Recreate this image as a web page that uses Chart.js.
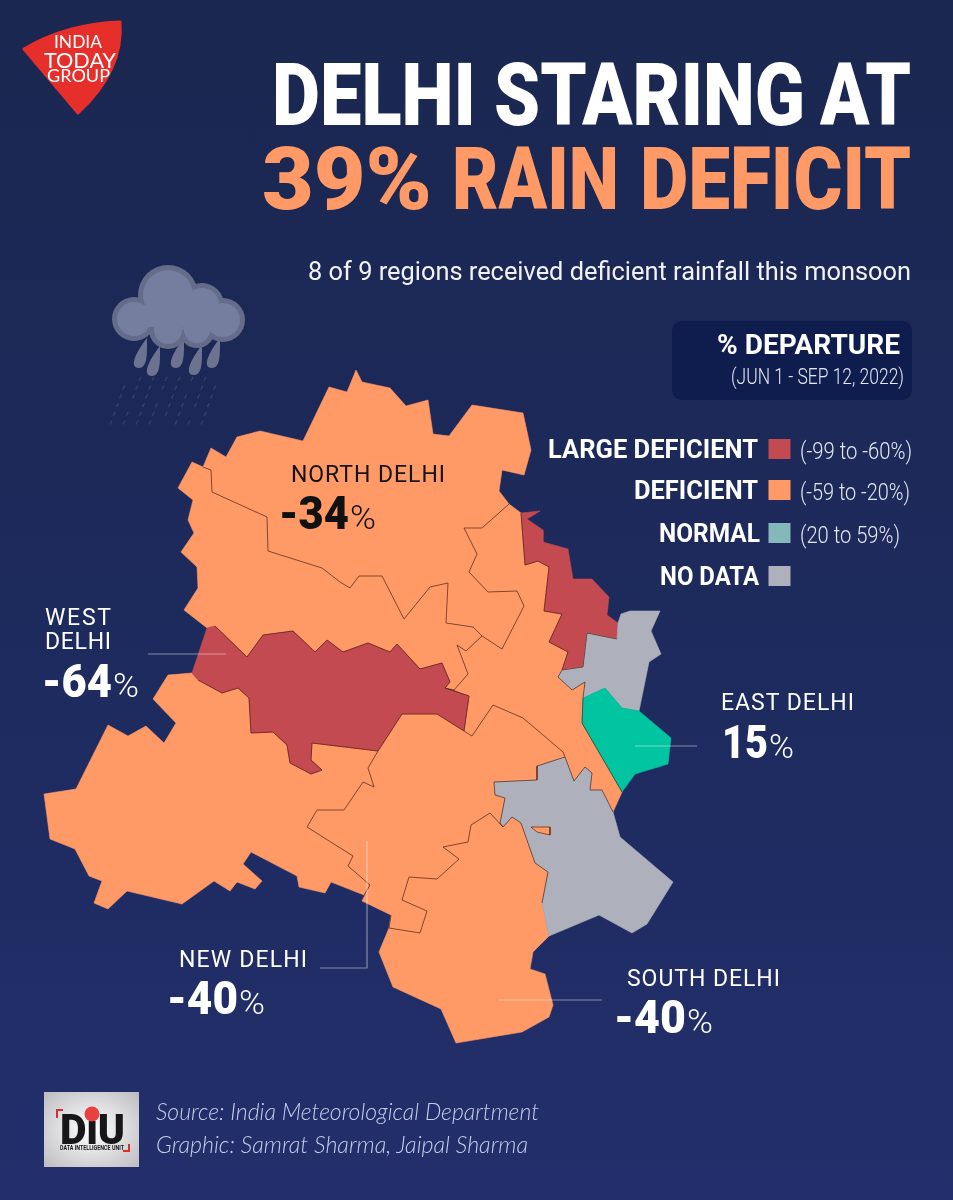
<!DOCTYPE html>
<html>
<head>
<meta charset="utf-8">
<title>Delhi staring at 39% rain deficit</title>
<script src="https://cdn.jsdelivr.net/npm/chart.js@4"></script>
<style>
  html, body { margin: 0; padding: 0; }
  body { width: 953px; height: 1200px; position: relative; overflow: hidden;
         background: linear-gradient(180deg, #1a2750 0%, #1d2a5c 50%, #222f6c 100%); }
  #map { position: absolute; left: 0; top: 0; width: 953px; height: 1200px; }
  #overlay { position: absolute; left: 0; top: 0; }
</style>
</head>
<body>
<canvas id="map" width="953" height="1200"></canvas>
<svg id="overlay" width="953" height="1200" xmlns="http://www.w3.org/2000/svg"></svg>
<script>
// ─── Data ─────────────────────────────────────────────────────────────────────

const regionNames = ['NORTH DELHI', 'WEST DELHI', 'EAST DELHI', 'NEW DELHI', 'SOUTH DELHI'];
const regionDepartures = ['-34', '-64', '15', '-40', '-40'];

const legendLabels = ['LARGE DEFICIENT', 'DEFICIENT', 'NORMAL', 'NO DATA'];
const legendRanges = ['(-99 to -60%)', '(-59 to -20%)', '(20 to 59%)', ''];

// District outlines
const north = [[203,467],[211,448],[226,457],[237,437],[260,431],[303,441],[329,387],[347,392],[356,370],[362,382],[390,388],[406,406],[428,400],[433,434],[449,436],[472,405],[523,413],[531,450],[524,475],[502,470],[499,491],[509,504],[482,528],[464,528],[477,554],[469,572],[488,592],[517,591],[524,606],[502,649],[482,636],[473,627],[446,623],[448,583],[430,587],[404,619],[382,576],[359,576],[350,588],[340,582],[322,568],[268,551],[267,517],[212,492],[211,470]];
const northWest = [[203,467],[192,462],[178,488],[193,500],[188,520],[194,533],[181,552],[197,567],[198,588],[184,610],[207,628],[215,626],[247,657],[263,635],[293,631],[315,652],[327,640],[343,652],[368,643],[390,652],[397,644],[420,669],[442,663],[450,682],[445,688],[454,690],[468,674],[457,645],[466,651],[482,636],[473,627],[446,623],[448,583],[430,587],[404,619],[382,576],[359,576],[350,588],[340,582],[322,568],[268,551],[267,517],[212,492],[211,470]];
const west = [[207,628],[215,626],[247,657],[263,635],[293,631],[315,652],[327,640],[343,652],[368,643],[390,652],[397,644],[420,669],[442,663],[450,682],[445,688],[469,696],[464,731],[437,714],[402,714],[378,751],[312,743],[311,760],[322,770],[311,774],[290,763],[287,745],[273,732],[251,733],[249,698],[238,688],[222,693],[198,680],[192,673]];
const southWest = [[168,675],[192,673],[198,680],[222,693],[238,688],[249,698],[251,733],[273,732],[287,745],[290,763],[311,774],[322,770],[311,760],[312,743],[378,751],[368,768],[374,787],[363,782],[344,810],[317,810],[307,827],[353,856],[348,866],[370,885],[364,895],[331,882],[325,893],[299,887],[297,876],[251,852],[243,864],[262,881],[255,889],[237,882],[230,891],[214,881],[182,904],[127,891],[108,909],[94,903],[102,881],[89,876],[75,849],[50,839],[44,794],[76,789],[108,725],[128,736],[146,726],[164,743],[176,723],[153,699]];
const newDelhi = [[378,751],[402,714],[437,714],[464,731],[472,736],[493,705],[523,718],[563,752],[565,757],[537,766],[537,780],[494,782],[495,795],[505,798],[500,823],[503,827],[490,813],[471,825],[468,842],[443,847],[459,859],[437,879],[409,877],[402,900],[427,911],[420,933],[389,928],[391,915],[362,901],[370,885],[348,866],[353,856],[307,827],[317,810],[344,810],[363,782],[374,787],[368,768]];
const south = [[389,928],[379,952],[393,987],[441,1009],[456,1043],[522,1032],[549,1017],[553,1005],[545,974],[530,969],[533,952],[549,936],[542,903],[548,872],[535,863],[521,823],[512,817],[503,827],[490,813],[471,825],[468,842],[443,847],[459,859],[437,879],[409,877],[402,900],[427,911],[420,933]];
const southEast = [[494,782],[537,780],[537,766],[565,757],[574,781],[585,767],[592,773],[590,790],[602,790],[613,812],[620,837],[673,882],[647,924],[632,933],[599,915],[549,936],[542,903],[548,872],[535,863],[521,823],[512,817],[503,827],[500,823],[505,798],[495,795]];
const southEastNotch = [[531,827],[550,827],[550,835],[537,832]];
const central = [[457,645],[468,674],[454,690],[469,696],[464,731],[472,736],[493,705],[523,718],[563,752],[565,757],[574,781],[585,767],[592,773],[590,790],[602,790],[613,812],[622,792],[582,723],[583,698],[585,682],[572,690],[558,677],[562,670],[568,652],[549,642],[562,614],[544,611],[549,567],[538,561],[525,565],[521,513],[509,504],[482,528],[464,528],[477,554],[469,572],[488,592],[517,591],[524,606],[502,649],[482,636],[466,651]];
const northEast = [[521,513],[540,511],[527,519],[543,530],[543,542],[568,549],[573,579],[592,579],[609,597],[607,615],[618,623],[617,639],[587,633],[583,667],[562,670],[568,652],[549,642],[562,614],[544,611],[549,567],[538,561],[525,565]];
const shahdara = [[618,623],[621,614],[630,611],[660,611],[651,631],[661,654],[649,662],[639,711],[622,708],[605,688],[583,698],[585,682],[572,690],[558,677],[562,670],[583,667],[587,633],[617,639]];
const east = [[583,698],[605,688],[622,708],[639,711],[671,738],[668,764],[635,774],[622,792],[582,723]];

// Inner boundaries, the thin dark lines between districts
const northBoundary = [[203,467],[211,470],[212,492],[267,517],[268,551],[322,568],[340,582],[350,588],[359,576],[382,576],[404,619],[430,587],[448,583],[446,623],[473,627],[482,636]];
const centralBoundary = [[509,504],[482,528],[464,528],[477,554],[469,572],[488,592],[517,591],[524,606],[502,649],[482,636],[466,651],[457,645],[468,674],[454,690],[445,688]];
const westBoundary = [[215,626],[247,657],[263,635],[293,631],[315,652],[327,640],[343,652],[368,643],[390,652],[397,644],[420,669],[442,663],[450,682],[445,688],[469,696],[464,731],[437,714],[402,714],[378,751],[312,743],[311,760],[322,770],[311,774],[290,763],[287,745],[273,732],[251,733],[249,698],[238,688],[222,693],[198,680]];
const southWestBoundary = [[378,751],[368,768],[374,787],[363,782],[344,810],[317,810],[307,827],[353,856],[348,866],[370,885],[364,895]];
const newDelhiTop = [[464,731],[472,736],[493,705],[523,718],[563,752],[565,757]];
const southBoundary = [[503,827],[490,813],[471,825],[468,842],[443,847],[459,859],[437,879],[409,877],[402,900],[427,911],[420,933],[389,928],[391,915]];
const southEastWest = [[565,757],[537,766],[537,780],[494,782],[495,795],[505,798],[500,823],[503,827]];
const southEastSouth = [[503,827],[512,817],[521,823],[535,863],[548,872],[542,903]];
const southEastNorth = [[565,757],[574,781],[585,767],[592,773],[590,790],[602,790],[613,812]];
const northEastBoundary = [[521,513],[525,565],[538,561],[549,567],[544,611],[562,614],[549,642],[568,652],[562,670],[583,667],[587,633],[617,639]];
const shahdaraBoundary = [[562,670],[558,677],[572,690],[585,682],[583,698],[582,723],[622,792]];
const notchBoundary = [[531,827],[550,827],[550,835],[537,832],[531,827]];

// Leader lines from labels into the map
const westLeader = [[148,654],[226,654]];
const eastLeader = [[635,746],[697,746]];
const newDelhiLeader = [[367,841],[367,968],[320,968]];
const southLeader = [[499,1000],[602,1000]];

// ─── Colours ──────────────────────────────────────────────────────────────────

const RED = '#c24a50';
const ORANGE = '#ff9966';
const GREEN = '#00c5a0';
const GREY = '#aeb0bc';
const SOFT_TEAL = '#84b8ba';
const BORDER = 'rgba(80,36,20,0.85)';
const LEADER = 'rgba(255,255,255,0.45)';

// ─── Map ──────────────────────────────────────────────────────────────────────

function toPoints(list, closed) {
  const pts = closed ? [...list, list[0]] : list;
  return pts.map(([x, y]) => ({ x, y }));
}

// border in the fill colour so no seams show between neighbours
function regionDataset(outline, color) {
  return {
    data: toPoints(outline, true),
    showLine: true,
    fill: 'shape',
    backgroundColor: color,
    borderColor: color,
    borderWidth: 0.6,
    pointRadius: 0,
    tension: 0,
  };
}

function lineDataset(line, color, width) {
  return {
    data: toPoints(line, false),
    showLine: true,
    fill: false,
    borderColor: color,
    borderWidth: width,
    pointRadius: 0,
    tension: 0,
  };
}

const boundaries = [
  northBoundary, centralBoundary, westBoundary, southWestBoundary, newDelhiTop, southBoundary,
  southEastWest, southEastSouth, southEastNorth, northEastBoundary, shahdaraBoundary, notchBoundary,
];

// first dataset ends up on top
new Chart(document.getElementById('map').getContext('2d'), {
  type: 'scatter',
  data: {
    datasets: [
      lineDataset(westLeader, LEADER, 1.2),
      lineDataset(eastLeader, LEADER, 1.2),
      lineDataset(newDelhiLeader, LEADER, 1.2),
      lineDataset(southLeader, LEADER, 1.2),
      ...boundaries.map((line) => lineDataset(line, BORDER, 0.8)),
      regionDataset(southEastNotch, ORANGE),
      regionDataset(east, GREEN),
      regionDataset(shahdara, GREY),
      regionDataset(northEast, RED),
      regionDataset(west, RED),
      regionDataset(southEast, GREY),
      regionDataset(south, ORANGE),
      regionDataset(newDelhi, ORANGE),
      regionDataset(central, ORANGE),
      regionDataset(southWest, ORANGE),
      regionDataset(northWest, ORANGE),
      regionDataset(north, ORANGE),
    ],
  },
  options: {
    responsive: false,
    animation: false,
    layout: { padding: 0 },
    plugins: { legend: { display: false }, tooltip: { enabled: false } },
    scales: {
      x: { type: 'linear', min: 0, max: 953, display: false },
      y: { type: 'linear', min: 0, max: 1200, reverse: true, display: false },
    },
  },
});

// ─── Text and decoration ──────────────────────────────────────────────────────

const svg = document.getElementById('overlay');
const SVG_NS = 'http://www.w3.org/2000/svg';

function el(name, attrs, parent) {
  const node = document.createElementNS(SVG_NS, name);
  for (const key in attrs) node.setAttribute(key, attrs[key]);
  (parent || svg).appendChild(node);
  return node;
}

// x0..x1 is the width the text has in the picture, y the baseline
function text(str, x0, x1, y, size, weight, color, family, style, adjust) {
  const node = el('text', {
    x: x0, y,
    'font-size': size,
    'font-weight': weight,
    'font-style': style || 'normal',
    'font-family': family || 'Roboto, sans-serif',
    fill: color,
    textLength: x1 - x0,
    lengthAdjust: adjust || 'spacingAndGlyphs',
  });
  node.textContent = str;
  return node;
}

// Region names are tracked out rather than stretched
function nameText(str, x0, x1, y, color) {
  return text(str, x0, x1, y, 23, 400, color, null, null, 'spacing');
}

// Title line, each word fitted to its own width
function titleLine(words, spans, y, color) {
  const node = el('text', {
    y, fill: color, 'font-size': 88, 'font-weight': 900, 'font-family': 'Roboto, sans-serif',
  });
  words.forEach((word, i) => {
    if (i > 0) node.appendChild(document.createTextNode(' '));
    const span = el('tspan', {
      x: spans[i][0],
      textLength: spans[i][1] - spans[i][0],
      lengthAdjust: 'spacingAndGlyphs',
    }, node);
    span.textContent = word;
  });
}

// Title
titleLine(['DELHI', 'STARING', 'AT'], [[272,476],[494,805],[820,911]], 125, '#ffffff');
titleLine(['39%', 'RAIN', 'DEFICIT'], [[262,432],[452,619],[640,911]], 209, ORANGE);
text('8 of 9 regions received deficient rainfall this monsoon', 308, 911, 280, 25, 400, '#f2f3f8');

// Legend header
el('rect', { x: 672, y: 321, width: 240, height: 79, rx: 10, fill: '#0e1c4e' });
text('% DEPARTURE', 717, 900, 354, 27, 700, '#ffffff');
text('(JUN 1 - SEP 12, 2022)', 731, 904, 384, 22, 300, '#e4e7f2');

// Legend rows
const legendColors = [RED, ORANGE, SOFT_TEAL, GREY];
const legendLabelX = [548, 634, 659, 660];
const legendLabelEnd = [758, 758, 760, 759];
const legendBase = [458, 499, 542, 585];
const legendRangeEnd = [912, 910, 900, 0];
legendLabels.forEach((label, i) => {
  text(label, legendLabelX[i], legendLabelEnd[i], legendBase[i], 25, 700, '#ffffff');
  el('rect', { x: 768.5, y: legendBase[i] - 19, width: 22, height: 20, fill: legendColors[i] });
  if (legendRanges[i]) {
    text(legendRanges[i], 800, legendRangeEnd[i], legendBase[i] + 1, 23, 300, '#e4e7f2');
  }
});

// Region labels: name, big number, thin percent sign
function valueLabel(value, x0, x1, pctEnd, y, color) {
  text(value, x0, x1, y, 46, 900, color);
  text('%', x1 + 1, pctEnd, y, 33, 300, color);
}

nameText(regionNames[0], 291, 445, 482, '#141414');
valueLabel(regionDepartures[0], 279, 349, 376, 529, '#111111');

const westWords = regionNames[1].split(' ');
nameText(westWords[0], 45, 111, 625, '#ffffff');
nameText(westWords[1], 45, 111, 649, '#ffffff');
valueLabel(regionDepartures[1], 42, 112, 139, 697, '#ffffff');

nameText(regionNames[2], 721, 854, 710, '#ffffff');
valueLabel(regionDepartures[2], 722, 768, 794, 758, '#ffffff');

nameText(regionNames[3], 179, 307, 967, '#ffffff');
valueLabel(regionDepartures[3], 167, 238, 265, 1014, '#ffffff');

nameText(regionNames[4], 627, 780, 986, '#ffffff');
valueLabel(regionDepartures[4], 614, 686, 713, 1033, '#ffffff');

// Source
text('Source: India Meteorological Department', 156, 539, 1120, 23, 300, '#c6cdea', 'Lato, sans-serif', 'italic');
text('Graphic: Samrat Sharma, Jaipal Sharma', 156, 528, 1153, 23, 300, '#c6cdea', 'Lato, sans-serif', 'italic');

// India Today logo
el('path', { d: 'M24 49 Q66 24 120 22 Q124 70 78 113 Z', fill: '#e62e2b', stroke: '#e62e2b', 'stroke-width': 3, 'stroke-linejoin': 'round' });
text('INDIA', 54, 102, 48, 18, 400, '#ffffff', 'Lato, sans-serif');
text('TODAY', 44, 116, 68, 22, 400, '#ffffff', 'Lato, sans-serif');
text('GROUP', 47, 110, 82, 18, 400, '#ffffff', 'Lato, sans-serif');

// Rain cloud: drops first, the cloud covers their tips
const dropCentres = [[139,362],[152,370],[176,362],[194,369],[212,362]];
for (const [cx, cy] of dropCentres) {
  el('path', {
    d: `M${cx + 8} ${cy - 24} C${cx + 8} ${cy - 10} ${cx + 9} ${cy + 6} ${cx} ${cy + 6} C${cx - 9} ${cy + 6} ${cx - 6} ${cy - 6} ${cx + 8} ${cy - 24} Z`,
    fill: '#6b7391',
  });
}
const cloudLobes = [[134,319,22],[168,295,30],[202,305,22],[223,320,22],[168,330,19],[197,330,18]];
for (const [cx, cy, r] of cloudLobes) el('circle', { cx, cy, r, fill: '#646c8a' });
for (const [cx, cy, r] of cloudLobes) el('circle', { cx, cy, r: r - 5, fill: '#757e9f' });
el('polygon', { points: cloudLobes.map(([cx, cy]) => `${cx},${cy}`).join(' '), fill: '#757e9f' });
el('rect', { x: 134, y: 305, width: 90, height: 22, fill: '#757e9f' });

for (let row = 0; row < 6; row++) {
  for (let col = 0; col < 8; col++) {
    if ((row * 3 + col * 5) % 7 === 0) continue;
    const x = 128 + col * 13 - row * 3.2;
    const y = 377 + row * 8.7;
    el('line', { x1: x, y1: y, x2: x - 2, y2: y + 4, stroke: 'rgba(140,150,185,0.2)', 'stroke-width': 1.6 });
  }
}

// DIU badge
const defs = el('defs', {});
const badgeFill = el('radialGradient', { id: 'badgeFill', cx: '50%', cy: '50%', r: '70%' }, defs);
el('stop', { offset: '0%', 'stop-color': '#ffffff' }, badgeFill);
el('stop', { offset: '100%', 'stop-color': '#bdbdc0' }, badgeFill);
el('rect', { x: 44, y: 1092, width: 95, height: 75, fill: 'url(#badgeFill)' });
text('DiU', 60, 125, 1144, 43, 900, '#17171a');
el('circle', { cx: 92, cy: 1114, r: 7.5, fill: '#e8413f' });
text('DATA INTELLIGENCE UNIT', 60, 124, 1150, 6.5, 700, '#17171a');
el('path', { d: 'M57 1118 V1110 H63', fill: 'none', stroke: '#d6302c', 'stroke-width': 2 });
el('path', { d: 'M129 1144 V1151 H123', fill: 'none', stroke: '#d6302c', 'stroke-width': 2 });
</script>
</body>
</html>
